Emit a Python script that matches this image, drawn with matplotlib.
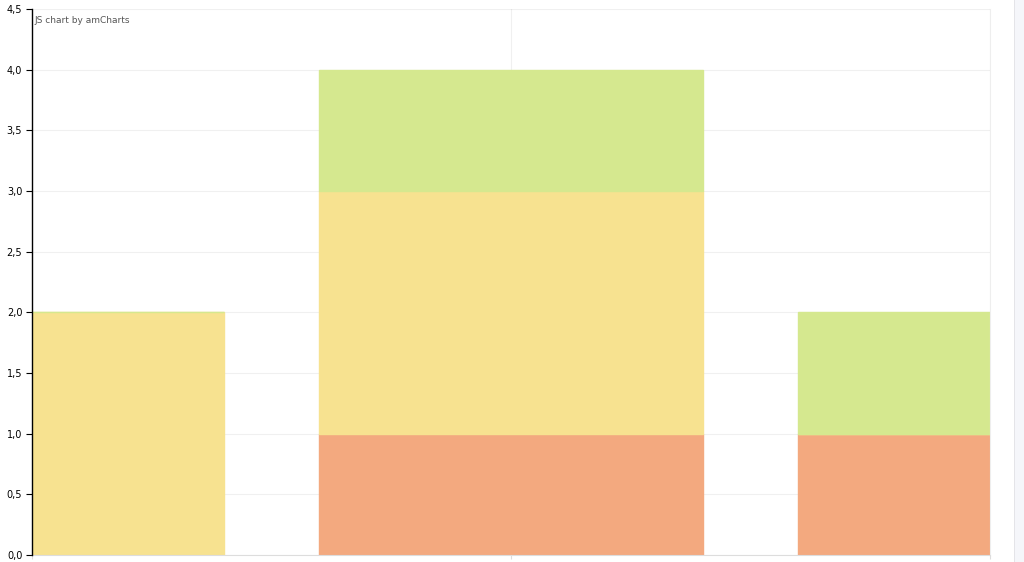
import matplotlib.pyplot as plt
from matplotlib.patches import Rectangle
from matplotlib.ticker import FuncFormatter

positions = [0, 1, 2]
red_vals = [0, 1, 1]
yellow_vals = [2, 2, 0]
green_vals = [0, 1, 1]
y_ticks = [0, 0.5, 1, 1.5, 2, 2.5, 3, 3.5, 4, 4.5]

red = "#f3a97f"
yellow = "#f7e290"
green = "#d5e88f"

fig = plt.figure(figsize=(10.24, 5.62), dpi=100)
ax = fig.add_axes([32 / 1024, 7 / 562, 958 / 1024, 546 / 562])

# amCharts draws the grid so it shows faintly through the columns
ax.grid(True, color="black", alpha=0.06, linewidth=0.8, zorder=3)

bottoms = [0, 0, 0]
for vals, col in [(red_vals, red), (yellow_vals, yellow), (green_vals, green)]:
    ax.bar(positions, vals, width=0.8, bottom=bottoms, color=col,
           edgecolor=col, linewidth=1, zorder=2)
    bottoms = [b + v for b, v in zip(bottoms, vals)]

ax.set_xlim(0, 2)
ax.set_ylim(0, 4.5)
ax.set_yticks(y_ticks)
ax.yaxis.set_major_formatter(FuncFormatter(lambda v, p: f"{v:.1f}".replace(".", ",")))
ax.set_xticks([0, 1, 2])
ax.set_xticklabels([])
ax.tick_params(axis="x", length=3, color="#dddddd")
ax.tick_params(axis="y", length=4, width=0.8, labelsize=7, pad=3, colors="black")

ax.spines["left"].set_color("black")
ax.spines["left"].set_linewidth(1)
ax.spines["left"].set_zorder(4)
ax.spines["bottom"].set_color("#dddddd")
ax.spines["top"].set_visible(False)
ax.spines["right"].set_color("#eeeeee")

ax.text(0.003, 0.988, "JS chart by amCharts", transform=ax.transAxes,
        fontsize=6.5, color="#555555", va="top", ha="left", zorder=5)

# scrollbar strip on the right
fig.patches.append(Rectangle((1014 / 1024, 0), 10 / 1024, 1, transform=fig.transFigure,
                             facecolor="#f5f6fa", edgecolor="none"))
fig.patches.append(Rectangle((1014 / 1024, 0), 1.2 / 1024, 1, transform=fig.transFigure,
                             facecolor="#e4e4e8", edgecolor="none"))

plt.savefig("out.png", dpi=100)
